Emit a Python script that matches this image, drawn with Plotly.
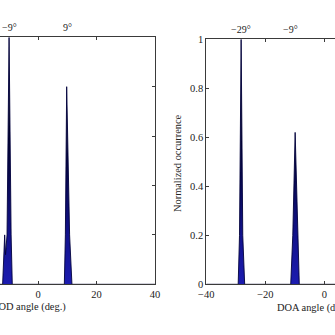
import plotly.graph_objects as go

# ---- data ----
dod_angle = [-13.0, -12.1, -11.4, -11.1, -10.6, -9.9, -9.2, -8.8, 9.0, 9.35, 9.8, 10.8, 11.6, 40.0]
dod_occ   = [0.0, 0.0, 0.20, 0.12, 0.20, 1.00, 0.20, 0.0, 0.0, 0.20, 0.80, 0.20, 0.0, 0.0]

doa_angle = [-40.0, -29.2, -28.75, -28.2, -27.65, -27.0, -11.4, -10.7, -9.9, -9.1, -8.5, 3.6]
doa_occ   = [0.0, 0.0, 0.20, 1.00, 0.20, 0.0, 0.0, 0.20, 0.62, 0.20, 0.0, 0.0]

dod_peak_labels = ["\u22129\u00b0", "9\u00b0"]
dod_label_angle = [-9.7, 10.0]
doa_peak_labels = ["\u221229\u00b0", "\u22129\u00b0"]
doa_label_angle = [-28.4, -11.5]

y_ticks = [0, 0.2, 0.4, 0.6, 0.8, 1]
y_tick_text = ["0", "0.2", "0.4", "0.6", "0.8", "1"]
dod_x_ticks = [0, 20, 40]
doa_x_ticks = [-40, -20, 0]

W = H = 335
FONT = "Liberation Serif"
AX = "#3a3a3a"
grad = dict(type="vertical", start=0, stop=1,
            colorscale=[[0, "#1c1cb0"], [0.2, "#12128c"], [0.45, "#07074a"],
                        [0.7, "#000018"], [1, "#000000"]])

fig = go.Figure()
fig.add_trace(go.Scatter(x=dod_angle, y=dod_occ, mode="lines", fill="tozeroy",
                         fillgradient=grad, line=dict(color="#00003c", width=0.9),
                         xaxis="x", yaxis="y", showlegend=False, hoverinfo="skip"))
fig.add_trace(go.Scatter(x=doa_angle, y=doa_occ, mode="lines", fill="tozeroy",
                         fillgradient=grad, line=dict(color="#00003c", width=0.9),
                         xaxis="x2", yaxis="y2", showlegend=False, hoverinfo="skip"))

def px_x(p):
    return p / W

def px_y(p):
    return 1 - p / H

common_x = dict(showline=True, linecolor=AX, linewidth=1, mirror="ticks", ticks="inside",
                ticklen=3, tickcolor=AX, showgrid=False, zeroline=False, automargin=False,
                tickfont=dict(family=FONT, size=10.5, color="#222"))
common_y = dict(showline=True, linecolor=AX, linewidth=1, ticks="inside", ticklen=3,
                tickcolor=AX, showgrid=False, zeroline=False, range=[0, 1], automargin=False,
                tickvals=y_ticks, ticktext=y_tick_text,
                tickfont=dict(family=FONT, size=10.5, color="#222"))

fig.update_layout(
    width=W, height=H, margin=dict(l=0, r=0, t=0, b=0, pad=0, autoexpand=False),
    paper_bgcolor="white", plot_bgcolor="white",
    xaxis=dict(domain=[0, px_x(155)], range=[-13.0, 40], tickvals=dod_x_ticks,
               anchor="y", **common_x),
    yaxis=dict(domain=[px_y(284.3), px_y(37.3)], side="right", anchor="x",
               showticklabels=False, **common_y),
    xaxis2=dict(domain=[px_x(206.3), 1], range=[-40, 3.6], tickvals=doa_x_ticks,
                ticktext=["\u221240", "\u221220", "0"], anchor="y2", **common_x),
    yaxis2=dict(domain=[px_y(284.3), px_y(39.3)], side="left", anchor="x2", **common_y),
)

anns = []
for t, a in zip(dod_peak_labels, dod_label_angle):
    anns.append(dict(text=t, x=a, y=1, xref="x", yref="y", yanchor="middle",
                     yshift=10, showarrow=False, font=dict(family=FONT, size=10, color="#222")))
for t, a in zip(doa_peak_labels, doa_label_angle):
    anns.append(dict(text=t, x=a, y=1, xref="x2", yref="y2", yanchor="middle",
                     yshift=10, showarrow=False, font=dict(family=FONT, size=10, color="#222")))
anns.append(dict(text="DOD angle (deg.)", x=px_x(68), y=px_y(307), xref="paper", yref="paper",
                 xanchor="right", yanchor="middle", showarrow=False,
                 font=dict(family=FONT, size=10.4, color="#222")))
anns.append(dict(text="DOA angle (deg.)", x=px_x(275), y=px_y(308), xref="paper", yref="paper",
                 xanchor="left", yanchor="middle", showarrow=False,
                 font=dict(family=FONT, size=10.4, color="#222")))
anns.append(dict(text="Normalized occurrence", x=px_x(177), y=px_y(163), xref="paper",
                 yref="paper", xanchor="center", yanchor="middle", textangle=-90,
                 showarrow=False, font=dict(family=FONT, size=10.4, color="#222")))
fig.update_layout(annotations=anns)

fig.write_html("out.html")
